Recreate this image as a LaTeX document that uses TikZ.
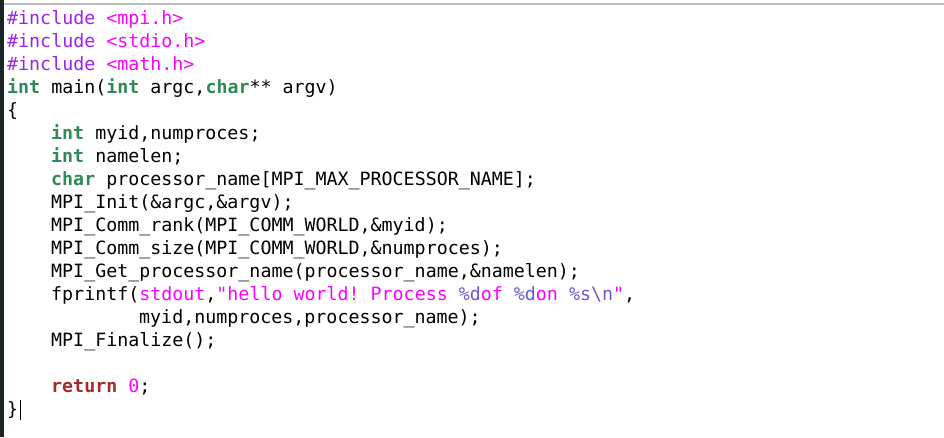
\documentclass[tikz,border=0pt]{standalone}
\usepackage{fontspec}
\setmonofont{DejaVu Sans Mono}
\definecolor{pp}{HTML}{A020F0}
\definecolor{mg}{HTML}{FF00FF}
\definecolor{ty}{HTML}{2E8B57}
\definecolor{kw}{HTML}{A52A2A}
\definecolor{sp}{HTML}{6A5ACD}
\definecolor{strip}{HTML}{1B2628}
\newcommand{\ty}[1]{\textcolor{ty}{\bfseries #1}}
\newcommand{\st}[1]{\textcolor{mg}{#1}}
\newcommand{\spc}[1]{\textcolor{sp}{#1}}
\begin{document}
\begin{tikzpicture}[x=1pt,y=1pt,
  code/.style={anchor=base west,inner sep=0pt,font=\ttfamily\fontsize{18.3}{23}\selectfont}]
\useasboundingbox (0,0) rectangle (944,-437);
\fill[white] (0,0) rectangle (944,-437);
\fill[strip] (0,0) rectangle (4,-437);
\draw[gray!50,line width=1.5pt] (4,-4) -- (944,-4);
\node[code] (l0) at (7,-24) {\textcolor{pp}{\#include} \st{<mpi.h>}};
\node[code] (l1) at (7,-47) {\textcolor{pp}{\#include} \st{<stdio.h>}};
\node[code] (l2) at (7,-70) {\textcolor{pp}{\#include} \st{<math.h>}};
\node[code] (l3) at (7,-93) {\ty{int} main(\ty{int} argc,\ty{char}** argv)};
\node[code] (l4) at (7,-116) {\{};
\node[code] (l5) at (51,-139) {\ty{int} myid,numproces;};
\node[code] (l6) at (51,-162) {\ty{int} namelen;};
\node[code] (l7) at (51,-185) {\ty{char} processor\_name[MPI\_MAX\_PROCESSOR\_NAME];};
\node[code] (l8) at (51,-208) {MPI\_Init(\&argc,\&argv);};
\node[code] (l9) at (51,-231) {MPI\_Comm\_rank(MPI\_COMM\_WORLD,\&myid);};
\node[code] (l10) at (51,-254) {MPI\_Comm\_size(MPI\_COMM\_WORLD,\&numproces);};
\node[code] (l11) at (51,-277) {MPI\_Get\_processor\_name(processor\_name,\&namelen);};
\node[code] (l12) at (51,-300) {fprintf(\st{stdout},\st{"hello world! Process }\spc{\%d}\st{ of }\spc{\%d}\st{ on }\spc{\%s\textbackslash n}\st{"},};
\node[code] (l13) at (139,-323) {myid,numproces,processor\_name);};
\node[code] (l14) at (51,-346) {MPI\_Finalize();};
\node[code] (l16) at (51,-392) {\textcolor{kw}{\bfseries return} \st{0};};
\node[code] (l17) at (7,-415) {\}};
\draw[black,line width=0.8pt] (l17.east) ++(1.5,-10) -- ++(0,20);
\end{tikzpicture}
\end{document}
